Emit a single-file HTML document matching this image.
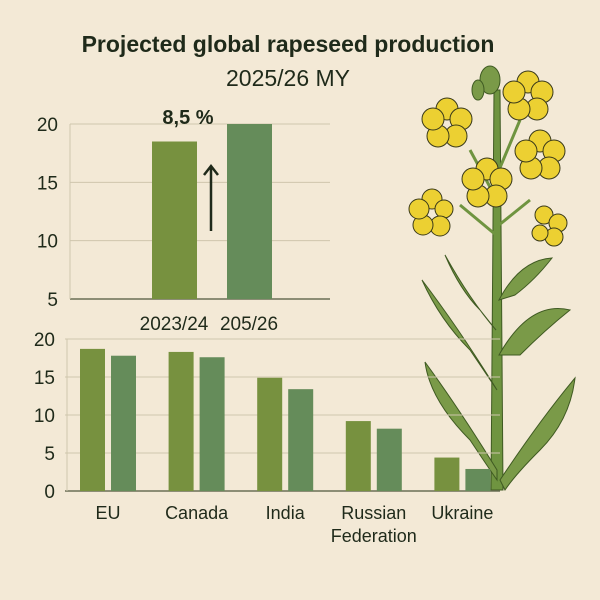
<!DOCTYPE html>
<html><head><meta charset="utf-8"><style>
html,body{margin:0;padding:0;background:#f3e9d6;}
svg{display:block;font-family:"Liberation Sans",sans-serif;}
</style></head><body>
<svg id="chart" width="600" height="600" viewBox="0 0 600 600" xmlns="http://www.w3.org/2000/svg">
<rect width="600" height="600" fill="#f3e9d6"/>
<g fill="#1f2a1a" font-size="23" font-weight="bold" text-anchor="middle">
<text x="288" y="52">Projected global rapeseed production</text>
<text x="288" y="86" font-weight="normal" font-size="23">2025/26 MY</text>
</g>
<g stroke="#3f5a22" stroke-width="1">
<path d="M494 90 L500 90 L503 490 L491 490 Z" fill="#6f9440"/>
<g fill="#7a9a48">
<path d="M497 470 Q460 410 425 362 Q430 400 470 440 Q490 470 497 480 Z"/>
<path d="M500 480 Q540 420 575 378 Q570 420 540 450 Q515 475 505 490 Z"/>
<path d="M497 390 Q460 330 422 280 Q440 320 470 350 Z"/>
<path d="M499 355 Q530 300 570 310 Q545 330 520 355 Z"/>
<path d="M496 330 Q470 300 445 255 Q460 290 480 310 Z"/>
<path d="M499 300 Q520 260 552 258 Q535 280 515 295 Z"/>
<path d="M496 235 L460 205 M499 225 L530 200 M497 200 L470 150 M499 170 L520 120" stroke="#6f9440" stroke-width="3" fill="none"/>
<ellipse cx="490" cy="80" rx="10" ry="14"/>
<ellipse cx="478" cy="90" rx="6" ry="10"/>
</g>
<g fill="#ecd032" stroke="#3a3a1a">
<g transform="translate(447,123)"><circle cx="0" cy="-14" r="11"/><circle cx="14" cy="-4" r="11"/><circle cx="9" cy="13" r="11"/><circle cx="-9" cy="13" r="11"/><circle cx="-14" cy="-4" r="11"/></g>
<g transform="translate(528,96)"><circle cx="0" cy="-14" r="11"/><circle cx="14" cy="-4" r="11"/><circle cx="9" cy="13" r="11"/><circle cx="-9" cy="13" r="11"/><circle cx="-14" cy="-4" r="11"/></g>
<g transform="translate(540,155)"><circle cx="0" cy="-14" r="11"/><circle cx="14" cy="-4" r="11"/><circle cx="9" cy="13" r="11"/><circle cx="-9" cy="13" r="11"/><circle cx="-14" cy="-4" r="11"/></g>
<g transform="translate(487,183)"><circle cx="0" cy="-14" r="11"/><circle cx="14" cy="-4" r="11"/><circle cx="9" cy="13" r="11"/><circle cx="-9" cy="13" r="11"/><circle cx="-14" cy="-4" r="11"/></g>
<g transform="translate(432,213)"><circle cx="0" cy="-14" r="10"/><circle cx="12" cy="-4" r="9"/><circle cx="8" cy="13" r="10"/><circle cx="-9" cy="12" r="10"/><circle cx="-13" cy="-4" r="10"/></g>
<g transform="translate(548,225)"><circle cx="-4" cy="-10" r="9"/><circle cx="10" cy="-2" r="9"/><circle cx="6" cy="12" r="9"/><circle cx="-8" cy="8" r="8"/></g>
</g>
</g>
<g id="top"></g>
<g id="bottom"></g>
<script>
const topCats=["2023/24","205/26"];
const topValues=[18.5,20];
const topTicks=[5,10,15,20];
const growthLabel="8,5 %";
const countries=[["EU"],["Canada"],["India"],["Russian","Federation"],["Ukraine"]];
const series2324=[18.7,18.3,14.9,9.2,4.4];
const series2526=[17.8,17.6,13.4,8.2,2.9];
const bottomTicks=[0,5,10,15,20];
const colors=["#77913f","#658c5a"];
const NS="http://www.w3.org/2000/svg";
function mk(p,t,a){const e=document.createElementNS(NS,t);for(const k in a)e.setAttribute(k,a[k]);p.appendChild(e);return e;}
const T=document.getElementById('top');
const ty=v=>299-(v-5)*(175/15);
topTicks.forEach(v=>{
 const l=mk(T,'line',{x1:70,x2:330,y1:ty(v),y2:ty(v),stroke:v===5?'#6b6f55':'#cfc6ad','stroke-width':v===5?1.5:1});
 
 
 const t=mk(T,'text',{x:58,y:ty(v)+7,'text-anchor':'end','font-size':19,fill:'#1f2a1a'});t.textContent=v;
 
 
});
mk(T,'line',{x1:70,x2:70,y1:124,y2:299,stroke:'#cfc6ad'});
const tx=[152,227];
topValues.forEach((v,i)=>{
 const r=mk(T,'rect',{x:tx[i],y:ty(v),width:45,height:299-ty(v),fill:colors[i]});
 
 
 const t=mk(T,'text',{x:tx[i]+22,y:330,'text-anchor':'middle','font-size':19,fill:'#1f2a1a'});t.textContent=topCats[i];
 
 
});
const pct=mk(T,'text',{x:188,y:124,'text-anchor':'middle','font-size':20,'font-weight':'bold',fill:'#1f2a1a'});
pct.textContent=growthLabel;


const ar=mk(T,'path',{d:'M211 231 L211 166 M204 175 L211 166 L218 175',stroke:'#1f2a1a','stroke-width':2.5,fill:'none'});


const B=document.getElementById('bottom');
const by=v=>491-v*7.6;
bottomTicks.forEach(v=>{
 const l=mk(B,'line',{x1:65,x2:500,y1:by(v),y2:by(v),stroke:v===0?'#6b6f55':'#cfc6ad','stroke-width':v===0?1.5:1});
 
 
 const t=mk(B,'text',{x:55,y:by(v)+7,'text-anchor':'end','font-size':19,fill:'#1f2a1a'});t.textContent=v;
 
 
});
mk(B,'line',{x1:67,x2:67,y1:339,y2:491,stroke:'#cfc6ad'});
countries.forEach((c,i)=>{
 const cx=108+i*88.6;
 [series2324[i],series2526[i]].forEach((v,j)=>{
  const r=mk(B,'rect',{x:cx-28+j*31,y:by(v),width:25,height:491-by(v),fill:colors[j]});
  
  
 });
 c.forEach((line,k)=>{
  const t=mk(B,'text',{x:cx,y:519+k*23,'text-anchor':'middle','font-size':18,fill:'#1f2a1a'});t.textContent=line;
  
  
 });
});
</script>
</svg>
</body></html>
